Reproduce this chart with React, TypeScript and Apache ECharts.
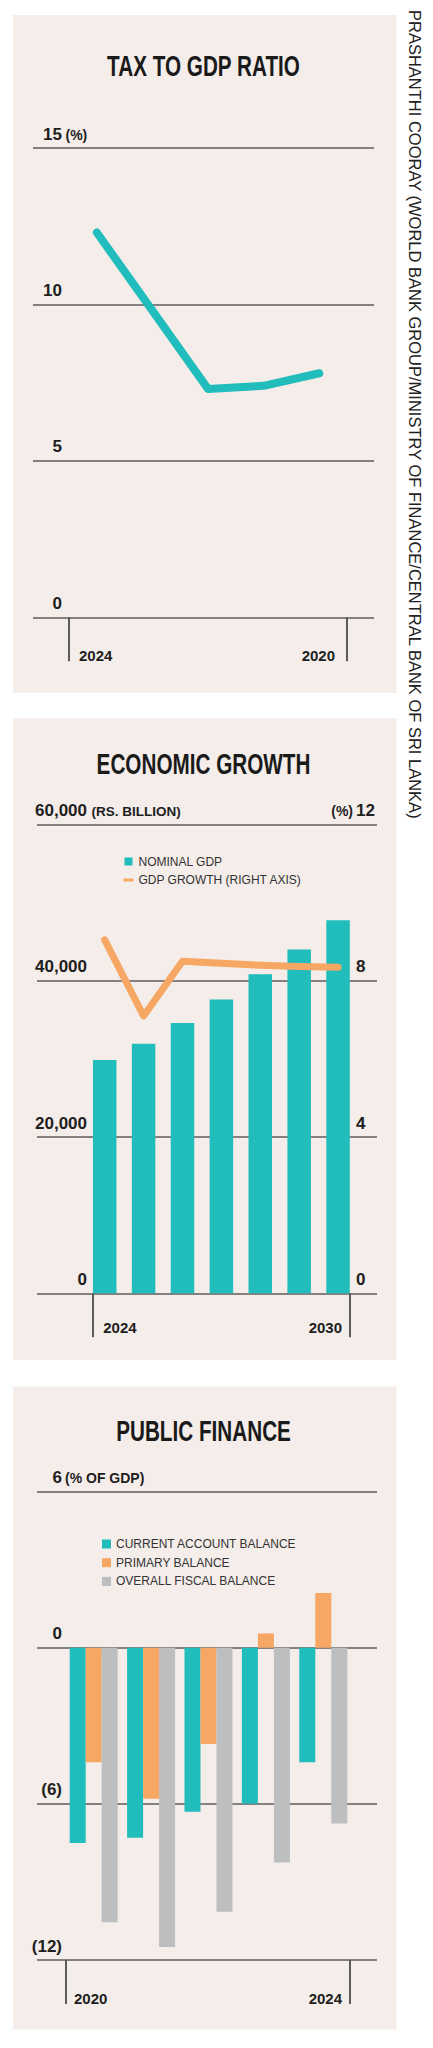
import React, { useEffect, useRef } from "react";
import * as echarts from "echarts";

// ---------- data ----------
const taxYears = ["2024", "2023", "2022", "2021", "2020"];
const taxRatio = [12.3, 9.8, 7.3, 7.4, 7.8];
const taxTicks = { min: 0, max: 15, interval: 5 };

const gdpYears = ["2024", "2025", "2026", "2027", "2028", "2029", "2030"];
const nominalGdp = [29850, 31950, 34600, 37600, 40850, 44000, 47750];
const gdpGrowth = [9.05, 7.1, 8.5, 8.45, 8.4, 8.37, 8.35];
const gdpLeftTicks = { min: 0, max: 60000, interval: 20000 };
const gdpRightTicks = { min: 0, max: 12, interval: 4 };

const pfYears = ["2020", "2021", "2022", "2023", "2024"];
const currentAccount = [-7.5, -7.3, -6.3, -6.0, -4.4];
const primaryBalance = [-4.4, -5.8, -3.7, 0.55, 2.1];
const overallFiscal = [-10.55, -11.5, -10.15, -8.25, -6.75];
const pfTicks = { min: -12, max: 6, interval: 6 };

const titles = ["TAX TO GDP RATIO", "ECONOMIC GROWTH", "PUBLIC FINANCE"];
const sourceText =
  "PRASHANTHI COORAY (WORLD BANK GROUP/MINISTRY OF FINANCE/CENTRAL BANK OF SRI LANKA)";

// ---------- styles ----------
const TEAL = "#21bcbc";
const ORANGE = "#f6a763";
const GREY = "#bdbec0";
const BG = "#f4edea";
const LINE = "#5c5c5c";
const TXT = "#1e1e1e";
const FN = "'Liberation Sans', Arial, sans-serif";

const hiddenX = (gridIndex: number) => ({ type: "value", gridIndex, show: false, min: 0, max: 1 });
const hiddenY = (gridIndex: number) => ({ type: "value", gridIndex, show: false, min: 0, max: 1 });

const numLabel = (margin: number, align: string, formatter: any) => ({
  inside: true,
  margin,
  align,
  verticalAlign: "bottom",
  lineHeight: 28,
  fontFamily: FN,
  fontWeight: "bold",
  fontSize: 17,
  color: TXT,
  formatter,
});

const unitLabel = (margin: number, align: string, formatter: any, size = 14) => ({
  inside: true,
  margin,
  align,
  verticalAlign: "bottom",
  lineHeight: 26.4,
  fontFamily: FN,
  fontWeight: "bold",
  fontSize: size,
  color: TXT,
  formatter,
});

const gridY = (gridIndex: number, t: any, extra: any) => ({
  type: "value",
  gridIndex,
  min: t.min,
  max: t.max,
  interval: t.interval,
  axisLine: { show: false },
  axisTick: { show: false },
  splitLine: { show: false },
  ...extra,
});

const decoX = (gridIndex: number, n: number, cats: string[], which: "first" | "last", margin: number, pad: number[]) => ({
  type: "value",
  gridIndex,
  position: "bottom",
  min: 0,
  max: n,
  interval: n,
  axisLine: { show: false },
  splitLine: { show: false },
  axisTick: which === "first"
    ? { show: true, length: 44, lineStyle: { color: LINE, width: 2 } }
    : { show: false },
  axisLabel: {
    show: true,
    showMinLabel: true,
    showMaxLabel: true,
    margin,
    align: which === "first" ? "left" : "right",
    padding: pad,
    fontFamily: FN,
    fontWeight: "bold",
    fontSize: 15,
    lineHeight: 18,
    color: TXT,
    formatter: (v: number) =>
      which === "first" ? (v === 0 ? cats[0] : "") : v === n ? cats[cats.length - 1] : "",
  },
});

function buildOption(): any {
  const grids = [
    // chart 1
    { left: 33, top: 148, width: 341, height: 469.3 }, // 0 wide
    { left: 69, top: 148, width: 278, height: 469.3 }, // 1 data + deco
    // chart 2
    { left: 37, top: 824.6, width: 340, height: 468.7 }, // 2 wide
    { left: 85.25, top: 824.6, width: 272.25, height: 468.7 }, // 3 data
    { left: 92.7, top: 824.6, width: 257.3, height: 468.7 }, // 4 deco
    // chart 3
    { left: 37, top: 1491.6, width: 340, height: 468.4 }, // 5 wide
    { left: 65, top: 1491.6, width: 287, height: 468.4 }, // 6 data
    { left: 66, top: 1491.6, width: 284, height: 468.4 }, // 7 deco
  ];

  const xAxis = [
    hiddenX(0),
    { type: "category", gridIndex: 1, data: taxYears, show: false },
    decoX(1, taxYears.length - 1, taxYears, "first", 29, [0, 0, 0, 10]),
    decoX(1, taxYears.length - 1, taxYears, "last", 29, [0, 12, 0, 0]),
    hiddenX(2),
    { type: "category", gridIndex: 3, data: gdpYears, show: false },
    decoX(4, gdpYears.length - 1, gdpYears, "first", 25.5, [0, 0, 0, 10.5]),
    decoX(4, gdpYears.length - 1, gdpYears, "last", 25.5, [0, 8, 0, 0]),
    hiddenX(5),
    { type: "category", gridIndex: 6, data: pfYears, show: false },
    decoX(7, pfYears.length - 1, pfYears, "first", 29, [0, 0, 0, 8]),
    decoX(7, pfYears.length - 1, pfYears, "last", 29, [0, 8, 0, 0]),
  ];

  const yAxis = [
    // 0 chart1 grid lines + numbers
    gridY(0, taxTicks, {
      position: "left",
      splitLine: { show: true, lineStyle: { color: LINE, width: 1.5 } },
      axisLabel: numLabel(29, "right", (v: number) => String(v)),
    }),
    // 1 chart1 unit
    gridY(0, taxTicks, {
      position: "left",
      axisLabel: unitLabel(32.5, "left", (v: number) => (v === taxTicks.max ? "(%)" : "")),
    }),
    // 2 chart1 data
    { type: "value", gridIndex: 1, show: false, min: taxTicks.min, max: taxTicks.max },
    // 3 chart2 left lines + numbers
    gridY(2, gdpLeftTicks, {
      position: "left",
      splitLine: { show: true, lineStyle: { color: LINE, width: 1.5 } },
      axisLabel: numLabel(50, "right", (v: number) => v.toLocaleString("en-US")),
    }),
    // 4 chart2 left unit
    gridY(2, gdpLeftTicks, {
      position: "left",
      axisLabel: unitLabel(54.5, "left", (v: number) => (v === gdpLeftTicks.max ? "(RS. BILLION)" : ""), 13.5),
    }),
    // 5 chart2 right numbers
    gridY(2, gdpRightTicks, {
      position: "right",
      axisLabel: numLabel(21, "left", (v: number) => String(v)),
    }),
    // 6 chart2 right unit
    gridY(2, gdpRightTicks, {
      position: "right",
      axisLabel: unitLabel(24, "right", (v: number) => (v === gdpRightTicks.max ? "(%)" : "")),
    }),
    // 7 chart2 bars
    { type: "value", gridIndex: 3, show: false, min: gdpLeftTicks.min, max: gdpLeftTicks.max, position: "left" },
    // 8 chart2 line
    { type: "value", gridIndex: 3, show: false, min: gdpRightTicks.min, max: gdpRightTicks.max, position: "right" },
    // 9 chart2 deco
    hiddenY(4),
    // 10 chart3 lines + numbers
    gridY(5, pfTicks, {
      position: "left",
      splitLine: { show: true, lineStyle: { color: LINE, width: 1.5 } },
      axisLabel: numLabel(25, "right", (v: number) => (v < 0 ? `(${-v})` : String(v))),
    }),
    // 11 chart3 unit
    gridY(5, pfTicks, {
      position: "left",
      axisLabel: unitLabel(28, "left", (v: number) => (v === pfTicks.max ? "(% OF GDP)" : "")),
    }),
    // 12 chart3 bars
    { type: "value", gridIndex: 6, show: false, min: pfTicks.min, max: pfTicks.max },
    // 13 chart3 deco
    hiddenY(7),
  ];

  const series = [
    {
      type: "line",
      name: "TAX TO GDP RATIO",
      xAxisIndex: 1,
      yAxisIndex: 2,
      data: taxRatio,
      symbol: "none",
      lineStyle: { color: TEAL, width: 8, cap: "round", join: "round" },
      itemStyle: { color: TEAL },
      z: 5,
    },
    {
      type: "bar",
      name: "NOMINAL GDP",
      xAxisIndex: 5,
      yAxisIndex: 7,
      data: nominalGdp,
      barWidth: 23.5,
      itemStyle: { color: TEAL },
    },
    {
      type: "line",
      name: "GDP GROWTH (RIGHT AXIS)",
      xAxisIndex: 5,
      yAxisIndex: 8,
      data: gdpGrowth,
      symbol: "none",
      lineStyle: { color: ORANGE, width: 7, cap: "round", join: "round" },
      itemStyle: { color: ORANGE },
      z: 5,
    },
    {
      type: "bar",
      name: "CURRENT ACCOUNT BALANCE",
      xAxisIndex: 9,
      yAxisIndex: 12,
      data: currentAccount,
      barWidth: 16,
      barGap: "0%",
      itemStyle: { color: TEAL },
    },
    {
      type: "bar",
      name: "PRIMARY BALANCE",
      xAxisIndex: 9,
      yAxisIndex: 12,
      data: primaryBalance,
      barWidth: 16,
      barGap: "0%",
      itemStyle: { color: ORANGE },
    },
    {
      type: "bar",
      name: "OVERALL FISCAL BALANCE",
      xAxisIndex: 9,
      yAxisIndex: 12,
      data: overallFiscal,
      barWidth: 16,
      barGap: "0%",
      itemStyle: { color: GREY },
    },
  ];

  const legendText = { fontFamily: FN, fontSize: 12, color: "#333", lineHeight: 14 };
  const legend = [
    {
      orient: "vertical",
      left: 123.5,
      top: 854.5,
      padding: 0,
      itemWidth: 10,
      itemHeight: 8,
      itemGap: 4.5,
      selectedMode: false,
      textStyle: legendText,
      data: [
        { name: "NOMINAL GDP", icon: "path://M0,0h8v8h-8z" },
        { name: "GDP GROWTH (RIGHT AXIS)", icon: "path://M0,0h10v3h-10z" },
      ],
    },
    {
      orient: "vertical",
      left: 102,
      top: 1537,
      padding: 0,
      itemWidth: 9,
      itemHeight: 9,
      itemGap: 4.7,
      selectedMode: false,
      textStyle: legendText,
      data: [
        { name: "CURRENT ACCOUNT BALANCE", icon: "rect" },
        { name: "PRIMARY BALANCE", icon: "rect" },
        { name: "OVERALL FISCAL BALANCE", icon: "rect" },
      ],
    },
  ];

  const panels = [
    { y: 15, h: 678 },
    { y: 718, h: 642 },
    { y: 1386.5, h: 643 },
  ];
  const titleY = [66, 764, 1431];

  const graphic: any[] = [];
  panels.forEach((p) =>
    graphic.push({
      type: "rect",
      z: -100,
      shape: { x: 13, y: p.y, width: 383.5, height: p.h },
      style: { fill: BG },
      silent: true,
    })
  );
  titles.forEach((t, i) =>
    graphic.push({
      type: "text",
      x: 203.5,
      y: titleY[i],
      scaleX: 0.69,
      z: 100,
      style: {
        text: t,
        font: `bold 30px ${FN}`,
        fill: "#1a1a1a",
        textAlign: "center",
        textVerticalAlign: "middle",
        align: "center",
        verticalAlign: "middle",
      },
    })
  );
  graphic.push({
    type: "text",
    x: 414.5,
    y: 10,
    rotation: -Math.PI / 2,
    scaleX: 1.0,
    z: 100,
    style: {
      text: sourceText,
      font: `16.5px ${FN}`,
      fill: "#222",
      textAlign: "left",
      textVerticalAlign: "middle",
      align: "left",
      verticalAlign: "middle",
    },
  });

  return {
    animation: false,
    grid: grids,
    xAxis,
    yAxis,
    series,
    legend,
    graphic: { elements: graphic },
  };
}

export default function App() {
  const ref = useRef<HTMLDivElement>(null);
  useEffect(() => {
    if (!ref.current) return;
    const chart = echarts.init(ref.current, undefined, { renderer: "svg" });
    chart.setOption(buildOption());
    return () => chart.dispose();
  }, []);
  return (
    <div
      ref={ref}
      style={{ position: "absolute", left: 0, top: 0, width: 433, height: 2048, background: "#ffffff" }}
    />
  );
}
